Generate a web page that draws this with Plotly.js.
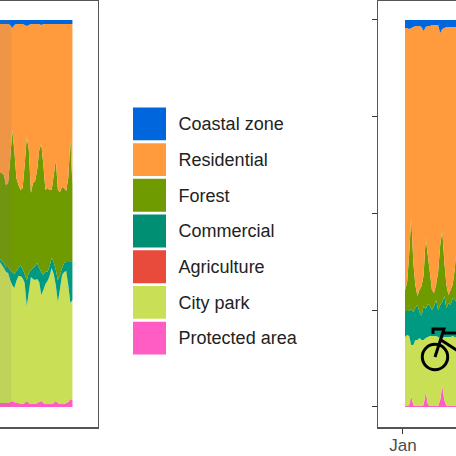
<!DOCTYPE html>
<html><head><meta charset="utf-8">
<script src="https://cdn.plot.ly/plotly-3.0.1.min.js"></script>
<style>html,body{margin:0;padding:0;width:456px;height:456px;overflow:hidden;background:#fff}
#c{position:absolute;left:-100px;top:0;width:656px;height:456px}</style></head>
<body><div id="c"></div>
<script>
const categories=["Coastal zone","Residential","Forest","Commercial","Agriculture","City park","Protected area"];
const colors=["#0066DD","#FF9A3D","#6F9A00","#009A82","#E84A3C","#C9E056","#FF5CC4"];
const legendColors=["#0066DD","#FF9A3D","#6F9A00","#008F72","#E84A3C","#C9E056","#FF5CC4"];
const yTicks=[0,25,50,75,100];

// left panel, visible days
const daysA=[55,56,57,58,59,60,61,62,63,64,65,66,67,68,69,70,71,72,73,74,75,76,77,78,79,80,81,82,83,84,85,86,87,88,89,90];
const coastalA=[4,4,4,4,4,5,8,5,4,4,4,4,5,6,5,4,4,4,4,4,5,4,4,4,4,4,4,4,4,4,4,4,4,4,4,4];
const residentialA=[149,149,151,161,159,135,102,125,154,161,166,164,140,111,125,169,159,157,146,126,119,141,166,164,166,166,151,136,166,168,163,164,167,154,116,161];
const forestA=[86,88,88,82,84,110,142,124,93,83,75,81,109,143,123,77,85,85,93,118,128,110,81,84,76,68,87,110,90,83,81,75,71,84,122,77];
const commercialA=[3,4,5,5,6,10,13,14,10,8,11,9,9,26,19,7,11,14,16,14,23,15,13,9,10,10,12,15,22,14,7,9,9,23,41,38];
const agricultureA=[0,0,0,0,0,0,0,0,0,0,0,0,0,0,0,0,0,0,0,0,0,0,0,0,0,0,0,0,0,0,0,0,0,0,0,0];
const parkA=[141,138,135,131,130,122,116,114,122,127,128,126,120,95,111,127,125,124,124,120,106,113,120,123,128,136,129,116,101,115,129,132,132,117,96,100];
const protectedA=[4,4,4,4,4,5,6,5,4,4,3,3,4,6,4,3,3,3,4,5,6,4,3,3,3,3,4,6,4,3,3,3,4,5,8,7];

// right panel, visible days
const daysB=[1,2,3,4,5,6,7,8,9,10,11,12,13,14,15,16,17,18,19,20,21,22,23,24,25,26];
const coastalB=[8,8,9,8,7,6,6,6,7,11,7,6,6,5,5,5,5,13,9,8,7,7,7,7,7,7];
const residentialB=[262,255,226,189,235,259,270,264,259,244,211,229,246,265,268,260,247,212,202,234,258,268,263,258,243,218];
const forestB=[21,28,56,92,50,23,9,22,30,31,71,49,34,20,13,15,38,60,71,34,23,8,15,13,30,57];
const commercialB=[26,24,25,36,33,32,35,26,24,34,29,33,30,26,30,36,27,33,36,41,29,34,32,38,37,36];
const agricultureB=[0,0,0,0,0,0,0,0,0,0,0,0,0,0,0,0,0,0,0,0,0,0,0,0,0,0];
const parkB=[69,71,69,51,60,66,66,68,66,65,54,67,70,70,70,70,69,62,48,63,69,69,69,70,69,67];
const protectedB=[1,1,2,11,2,1,1,1,1,2,15,3,1,1,1,1,1,7,21,7,1,1,1,1,1,2];

const W=656,H=456,OFF=100;
const fx=x=>(x+OFF)/W, fy=y=>(H-y)/H;
const seriesA=[protectedA,parkA,agricultureA,commercialA,forestA,residentialA,coastalA];
const seriesB=[protectedB,parkB,agricultureB,commercialB,forestB,residentialB,coastalB];
const order=[6,5,4,3,2,1,0];
const traces=[];
order.forEach((c,i)=>{
  traces.push({x:daysA,y:seriesA[i],name:categories[c],type:"scatter",mode:"none",stackgroup:"a",groupnorm:"percent",fillcolor:colors[c],xaxis:"x",yaxis:"y",hoverinfo:"skip"});
});
order.forEach((c,i)=>{
  traces.push({x:daysB,y:seriesB[i],name:categories[c],type:"scatter",mode:"none",stackgroup:"b",groupnorm:"percent",fillcolor:colors[c],xaxis:"x2",yaxis:"y2",hoverinfo:"skip"});
});
traces.push({type:"bar",orientation:"h",y:categories,x:categories.map(()=>1),width:0.92,marker:{color:legendColors,line:{width:0}},xaxis:"x3",yaxis:"y3",hoverinfo:"skip"});

const frame={showline:true,mirror:true,linecolor:"#555",linewidth:1.5,showgrid:false,zeroline:false};
const yrange=[-5.17,104.9];
const layout={
  width:W,height:H,margin:{l:0,r:0,t:0,b:0},paper_bgcolor:"#fff",plot_bgcolor:"#fff",showlegend:false,
  font:{family:"Liberation Sans, Arial, sans-serif"},
  xaxis:{...frame,domain:[fx(-60),fx(97.5)],range:[26.2,102.08],tickvals:[],showticklabels:false,ticks:""},
  yaxis:{...frame,domain:[fy(427),fy(1)],range:yrange,tickvals:yTicks,showticklabels:false,ticks:"outside",ticklen:5,tickcolor:"#333"},
  xaxis2:{...frame,anchor:"y2",domain:[fx(378),fx(540)],range:[-12.04,66.2],tickvals:[0],ticktext:["Jan"],ticks:"outside",ticklen:5,tickcolor:"#333",ticklabelstandoff:-3,tickfont:{size:17,color:"#4d4d4d"}},
  yaxis2:{...frame,anchor:"x2",domain:[fy(427),fy(1)],range:yrange,tickvals:yTicks,showticklabels:false,ticks:"outside",ticklen:5,tickcolor:"#333"},
  xaxis3:{anchor:"y3",domain:[fx(133),fx(166)],range:[0,1],visible:false,fixedrange:true},
  yaxis3:{anchor:"x3",side:"right",domain:[fy(356),fy(106)],type:"category",autorange:"reversed",showgrid:false,zeroline:false,showline:false,ticks:"outside",ticklen:8,tickcolor:"rgba(0,0,0,0)",tickfont:{size:18,color:"#222"}},
  shapes:[
    {type:"rect",layer:"above",xref:"x",yref:"paper",x0:26.2,x1:60.5,y0:fy(407),y1:fy(20),fillcolor:"rgba(120,120,120,0.13)",line:{width:0}},
    {type:"circle",layer:"above",xref:"paper",yref:"paper",x0:fx(422.3),x1:fx(447.7),y0:fy(369.7),y1:fy(344.3),line:{color:"#000",width:3}},
    {type:"path",layer:"above",xref:"paper",yref:"paper",line:{color:"#000",width:3},
     path:`M${fx(435)},${fy(357)} L${fx(444)},${fy(329)} L${fx(433)},${fy(329)} L${fx(433)},${fy(334)} M${fx(443)},${fy(333)} L${fx(458)},${fy(333)} M${fx(441)},${fy(340)} L${fx(458)},${fy(351)}`}
  ]
};
Plotly.newPlot("c",traces,layout,{staticPlot:true,displayModeBar:false});
</script></body></html>
